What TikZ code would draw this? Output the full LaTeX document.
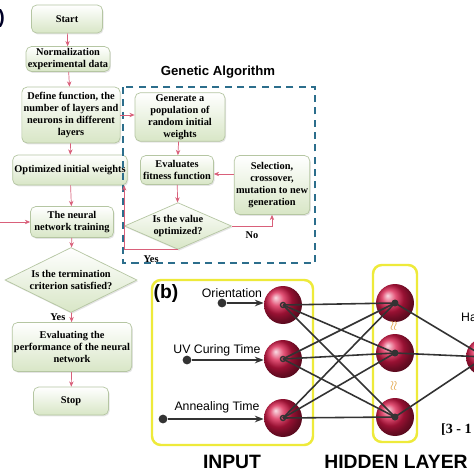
\documentclass[tikz,border=0pt]{standalone}
\usepackage{fontspec}
\setmainfont{Liberation Serif}
\setsansfont{Liberation Sans}
\usepackage{tikz}
\usetikzlibrary{shapes.geometric,arrows.meta,positioning,shadows}
\definecolor{BoxGreen}{HTML}{D8E6C6}
\definecolor{BoxLine}{HTML}{B5C6A2}
\definecolor{FlowPink}{HTML}{D9607A}
\definecolor{GATeal}{HTML}{2C6E8C}
\definecolor{LayerYellow}{HTML}{EEEA3A}
\definecolor{NeuronRed}{HTML}{D81848}
\definecolor{WireGray}{HTML}{333333}
\definecolor{WaveOrange}{HTML}{E2A548}

\begin{document}
\begin{tikzpicture}[x=0.02cm, y=-0.02cm,
    flowbox/.style={draw=BoxLine, rounded corners=3pt, top color=white, bottom color=BoxGreen, drop shadow={opacity=0.2, shadow xshift=0.6pt, shadow yshift=-0.8pt}, align=center, inner sep=1pt, font=\bfseries\fontsize{5.9}{6.8}\selectfont},
    decision/.style={flowbox, diamond, sharp corners, inner sep=0pt, aspect=2},
    flow/.style={-{Stealth[length=3pt, width=2.5pt]}, draw=FlowPink, line width=0.4pt},
    neuron/.style={circle, shading=ball, ball color=NeuronRed, minimum size=0.76cm, inner sep=0pt},
    wire/.style={draw=WireGray, line width=0.9pt},
    feed/.style={-{Stealth[length=5pt]}, draw=WireGray, line width=1pt},
    layer/.style={draw=LayerYellow, line width=1.4pt, rounded corners=5pt},
    netlabel/.style={font=\sffamily\fontsize{7}{8}\selectfont},
    caption/.style={font=\sffamily\bfseries\fontsize{11}{12}\selectfont}
  ]
    \useasboundingbox[fill=white] (0,0) rectangle (474,474);

    \node[font=\sffamily\bfseries\fontsize{11}{12}\selectfont, text=black!85!blue, anchor=east] (parta) at (11,19) {(a)};

    \node[flowbox, minimum width=1.42cm, minimum height=0.56cm] (start) at (67,19) {Start};
    \node[flowbox, minimum width=1.44cm, minimum height=0.44cm] (norm) at (68,59) {Normalization\\ experimental data};
    \node[flowbox, minimum width=1.94cm, minimum height=1.12cm] (define) at (71,115) {Define function, the\\ number of layers and\\ neurons in different\\ layers};
    \node[flowbox, minimum width=2.08cm, minimum height=0.6cm] (opt) at (70,170) {Optimized initial weights};
    \node[flowbox, minimum width=1.66cm, minimum height=0.62cm] (train) at (72,222) {The neural\\ network training};
    \node[decision, minimum width=2.64cm, minimum height=1.3cm] (term) at (71,280) {Is the termination\\ criterion satisfied?};
    \node[flowbox, minimum width=2.2cm, minimum height=0.98cm] (perf) at (72,347) {Evaluating the\\ performance of the neural\\ network};
    \node[flowbox, minimum width=1.5cm, minimum height=0.56cm] (stop) at (71,401) {Stop};
    \coordinate (feedin) at (0,222);

    \node[font=\sffamily\bfseries\fontsize{7.5}{9}\selectfont] (gatitle) at (218,72) {Genetic Algorithm};
    \draw[GATeal, line width=0.9pt, dash pattern=on 4pt off 3pt] (123,87) rectangle (315,263);
    \node[flowbox, minimum width=1.8cm, minimum height=0.82cm] (gen) at (180,117) {Generate a\\ population of\\ random initial\\ weights};
    \node[flowbox, minimum width=1.46cm, minimum height=0.58cm] (fit) at (177,170) {Evaluates\\ fitness function};
    \node[decision, minimum width=2.14cm, minimum height=0.9cm] (optq) at (178,226) {Is the value\\ optimized?};
    \node[flowbox, minimum width=1.5cm, minimum height=1.18cm] (sel) at (272,185) {Selection,\\ crossover,\\ mutation to new\\ generation};

    \draw[flow] (start) -- (norm);
    \draw[flow] (norm) -- (define);
    \draw[flow] (define) -- (opt);
    \draw[flow] (opt) -- (train);
    \draw[flow] (feedin) -- (train);
    \draw[flow] (train) -- (term);
    \draw[flow] (term) -- node[left, font=\bfseries\fontsize{5.9}{6.8}\selectfont] {Yes} (perf);
    \draw[flow] (perf) -- (stop);
    \draw[flow] (define.east) -- (define.east -| gen.west);
    \draw[flow] (gen) -- (fit);
    \draw[flow] (fit) -- (optq);
    \draw[flow] (sel.west |- 0,174) -- (fit.east |- 0,174);
    \draw[flow] (optq.east) -| node[pos=0.25, below, font=\bfseries\fontsize{5.9}{6.8}\selectfont] {No} (sel.south);
    \draw[flow] (optq.south) -| node[pos=0.25, below, font=\bfseries\fontsize{5.9}{6.8}\selectfont] {Yes} ([xshift=-2pt]opt.south east);

    \draw[layer] (152,280) rectangle (313,445);
    \draw[layer] (373,265) rectangle (417,442);
    \node[font=\sffamily\bfseries\fontsize{11}{12}\selectfont] (partb) at (166,293) {(b)};

    \node[neuron] (i1) at (283,305) {};
    \node[neuron] (i2) at (283,359) {};
    \node[neuron] (i3) at (283,418) {};
    \node[neuron] (h1) at (395,303) {};
    \node[neuron] (h2) at (395,353) {};
    \node[neuron] (h3) at (395,417) {};
    \node[neuron] (o1) at (485,357) {};
    \node[rotate=90, text=WaveOrange, font=\scriptsize] (wave1) at (394,326) {$\approx$};
    \node[rotate=90, text=WaveOrange, font=\scriptsize] (wave2) at (394,386) {$\approx$};

    \foreach \i in {1,2,3}
      \foreach \h in {1,2,3}
        \draw[wire] (i\i.center) -- (h\h.center);
    \foreach \h in {1,2,3}
      \draw[wire] (h\h.center) -- (o1.center);
    \foreach \i in {1,2,3}
      \draw[WireGray, line width=0.8pt] (i\i.center) circle (2.5);
    \foreach \h in {1,2,3}
      \fill[WireGray] (h\h.center) circle (3.5);

    \node[circle, fill=WireGray, inner sep=0pt, minimum size=5pt] (d1) at (222,303) {};
    \node[circle, fill=WireGray, inner sep=0pt, minimum size=5pt] (d2) at (187,360) {};
    \node[circle, fill=WireGray, inner sep=0pt, minimum size=5pt] (d3) at (163,419) {};
    \draw[feed] (d1) -- (i1.west |- d1);
    \draw[feed] (d2) -- (i2.west |- d2);
    \draw[feed] (d3) -- (i3.west |- d3);
    \node[netlabel] (lab1) at (232,293) {Orientation};
    \node[netlabel] (lab2) at (217,350) {UV Curing Time};
    \node[netlabel] (lab3) at (217,407) {Annealing Time};
    \node[netlabel, anchor=west] (lab4) at (455,317) {Ha};
    \node[font=\bfseries\fontsize{8}{9}\selectfont, anchor=west] (arch) at (435,430) {[3 - 1};

    \node[caption] (capin) at (232,462) {INPUT};
    \node[caption] (caphid) at (396,462) {HIDDEN LAYER};
  \end{tikzpicture}
\end{document}
